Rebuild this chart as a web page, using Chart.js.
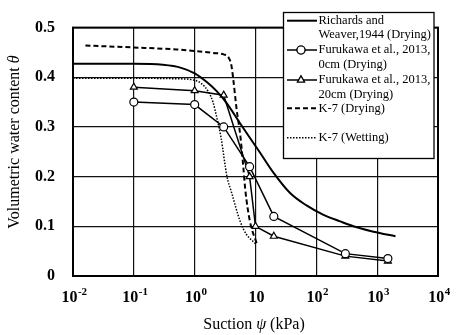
<!DOCTYPE html>
<html><head><meta charset="utf-8">
<script src="https://cdn.jsdelivr.net/npm/chart.js@4/dist/chart.umd.min.js"></script>
<style>html,body{margin:0;padding:0;background:#fff}</style>
</head><body>
<canvas id="c" width="474" height="335"></canvas>
<script>
// ---- data ----
const richardsSuction = [0.01, 0.1, 0.3, 0.6, 1, 1.6, 2.3, 3.4, 5.6, 11.9, 19.7, 37, 69, 131, 246, 464, 870, 2000];
const richardsTheta   = [0.427, 0.427, 0.425, 0.419, 0.408, 0.39, 0.372, 0.347, 0.307, 0.248, 0.208, 0.167, 0.142, 0.123, 0.11, 0.098, 0.089, 0.08];

const furukawa0Suction = [0.1, 1, 3, 8, 20, 300, 1500];
const furukawa0Theta   = [0.35, 0.345, 0.30, 0.22, 0.12, 0.045, 0.035];

const furukawa20Suction = [0.1, 1, 3, 8, 10, 20, 300, 1500];
const furukawa20Theta   = [0.38, 0.373, 0.364, 0.2, 0.1, 0.08, 0.04, 0.03];

const k7DrySuction = [0.016, 0.1, 0.5, 1, 2, 3, 3.6, 4.0, 4.3, 4.9, 5.6, 6.3, 6.8, 8.1, 10.5];
const k7DryTheta   = [0.464, 0.46, 0.456, 0.453, 0.449, 0.446, 0.44, 0.425, 0.397, 0.335, 0.285, 0.22, 0.173, 0.11, 0.065];

const k7WetSuction = [0.01, 0.1, 0.5, 1, 1.3, 1.7, 2, 2.3, 2.7, 3.4, 4, 5.6, 7, 10];
const k7WetTheta   = [0.398, 0.398, 0.397, 0.394, 0.387, 0.37, 0.35, 0.32, 0.28, 0.2, 0.17, 0.11, 0.085, 0.065];

const xTickValues = [0.01, 0.1, 1, 10, 100, 1000, 10000];
const xTickBase   = ['10', '10', '10', '10', '10', '10', '10'];
const xTickSup    = ['-2', '-1', '0', '', '2', '3', '4'];

const legendLines = [
  ['Richards and', 'Weaver,1944 (Drying)'],
  ['Furukawa et al., 2013,', '0cm (Drying)'],
  ['Furukawa et al., 2013,', '20cm (Drying)'],
  ['K-7 (Drying)'],
  ['K-7 (Wetting)']
];

const pts = (xs, ys) => xs.map((v, i) => ({x: v, y: ys[i]}));
const SERIF = "'Liberation Serif', 'Times New Roman', serif";

const decor = {
  id: 'decor',
  afterDraw(chart) {
    const {ctx, chartArea: a, scales: {x}} = chart;
    ctx.save();
    // frame
    ctx.strokeStyle = '#000'; ctx.lineWidth = 2; ctx.setLineDash([]);
    ctx.strokeRect(a.left, a.top, a.right - a.left, a.bottom - a.top);

    // x tick labels with superscripts
    ctx.fillStyle = '#000'; ctx.textBaseline = 'alphabetic'; ctx.textAlign = 'left';
    xTickValues.forEach((v, i) => {
      const px = x.getPixelForValue(v);
      ctx.font = 'bold 16px ' + SERIF;
      const wb = ctx.measureText(xTickBase[i]).width;
      ctx.font = 'bold 11px ' + SERIF;
      const ws = xTickSup[i] ? ctx.measureText(xTickSup[i]).width : 0;
      const start = px - (wb + ws) / 2 + 1;
      ctx.font = 'bold 16px ' + SERIF;
      ctx.fillText(xTickBase[i], start, 301.5);
      if (xTickSup[i]) { ctx.font = 'bold 11px ' + SERIF; ctx.fillText(xTickSup[i], start + wb + 0.5, 295); }
    });

    // axis titles
    const drawMixed = (parts, cx, cy) => {
      let w = 0;
      parts.forEach(p => { ctx.font = p[1] + ' 16px ' + SERIF; w += ctx.measureText(p[0]).width; });
      let xx = cx - w / 2;
      parts.forEach(p => { ctx.font = p[1] + ' 16px ' + SERIF; ctx.fillText(p[0], xx, cy); xx += ctx.measureText(p[0]).width; });
    };
    ctx.textBaseline = 'middle';
    drawMixed([['Suction ', 'normal'], ['ψ', 'italic'], [' (kPa)', 'normal']], 254, 325);
    ctx.save();
    ctx.translate(15, 142); ctx.rotate(-Math.PI / 2);
    drawMixed([['Volumetric water content ', 'normal'], ['θ', 'italic']], 0, 0);
    ctx.restore();

    // legend box
    const bx = 283.5, by = 12.5, bw = 150.5, bh = 146;
    ctx.fillStyle = '#fff'; ctx.fillRect(bx, by, bw, bh);
    ctx.strokeStyle = '#000'; ctx.lineWidth = 1.3; ctx.strokeRect(bx, by, bw, bh);
    const rows = [20.7, 50, 80, 108.3, 137.7];
    const ds = chart.data.datasets;
    ctx.textBaseline = 'middle'; ctx.fillStyle = '#000';
    rows.forEach((ry, i) => {
      const d = ds[i];
      ctx.strokeStyle = '#000'; ctx.lineWidth = d.borderWidth; ctx.setLineDash(d.borderDash || []);
      ctx.beginPath(); ctx.moveTo(287, ry); ctx.lineTo(317, ry); ctx.stroke();
      ctx.setLineDash([]);
      if (d.pointStyle === 'circle' || d.pointStyle === 'triangle') {
        ctx.lineWidth = 1.2; ctx.fillStyle = '#fff';
        Chart.helpers.drawPoint(ctx, {pointStyle: d.pointStyle, radius: 4, borderWidth: 1.2}, 301, ry);
        ctx.fill(); ctx.stroke();
      }
      ctx.fillStyle = '#000';
      ctx.font = '12.5px ' + SERIF;
      legendLines[i].forEach((t, j) => ctx.fillText(t, 318.5, ry + j * 14.5));
    });
    ctx.restore();
  }
};

new Chart(document.getElementById('c'), {
  type: 'line',
  data: {
    datasets: [
      {label: 'Richards and Weaver,1944 (Drying)', data: pts(richardsSuction, richardsTheta),
       borderColor: '#000', borderWidth: 2, pointRadius: 0, cubicInterpolationMode: 'monotone'},
      {label: 'Furukawa et al., 2013, 0cm (Drying)', data: pts(furukawa0Suction, furukawa0Theta),
       borderColor: '#000', borderWidth: 1.5, pointStyle: 'circle', pointRadius: 4,
       pointBackgroundColor: '#fff', pointBorderColor: '#000', pointBorderWidth: 1.2, tension: 0},
      {label: 'Furukawa et al., 2013, 20cm (Drying)', data: pts(furukawa20Suction, furukawa20Theta),
       borderColor: '#000', borderWidth: 1.5, pointStyle: 'triangle', pointRadius: 4,
       pointBackgroundColor: '#fff', pointBorderColor: '#000', pointBorderWidth: 1.2, tension: 0},
      {label: 'K-7 (Drying)', data: pts(k7DrySuction, k7DryTheta),
       borderColor: '#000', borderWidth: 2, borderDash: [5, 3], pointRadius: 0, cubicInterpolationMode: 'monotone'},
      {label: 'K-7 (Wetting)', data: pts(k7WetSuction, k7WetTheta),
       borderColor: '#000', borderWidth: 1.5, borderDash: [1.5, 1.5], pointRadius: 0, cubicInterpolationMode: 'monotone'}
    ]
  },
  options: {
    responsive: false, animation: false,
    layout: {padding: {top: 8, right: 36, left: 0, bottom: 0}},
    plugins: {legend: {display: false}, tooltip: {enabled: false}},
    scales: {
      x: {
        type: 'logarithmic', min: 0.01, max: 10000,
        afterBuildTicks: s => { s.ticks = xTickValues.map(v => ({value: v})); },
        afterFit: s => { s.height = 59; },
        ticks: {display: false},
        grid: {color: '#111', lineWidth: 1.2, drawTicks: false},
        border: {display: false}
      },
      y: {
        min: 0, max: 0.5,
        afterFit: s => { s.width = 73; },
        ticks: {stepSize: 0.1, padding: 18, color: '#000',
                font: {family: SERIF, size: 16, weight: 'bold'}},
        grid: {color: '#111', lineWidth: 1.2, drawTicks: false},
        border: {display: false}
      }
    }
  },
  plugins: [decor]
});
</script>
</body></html>
